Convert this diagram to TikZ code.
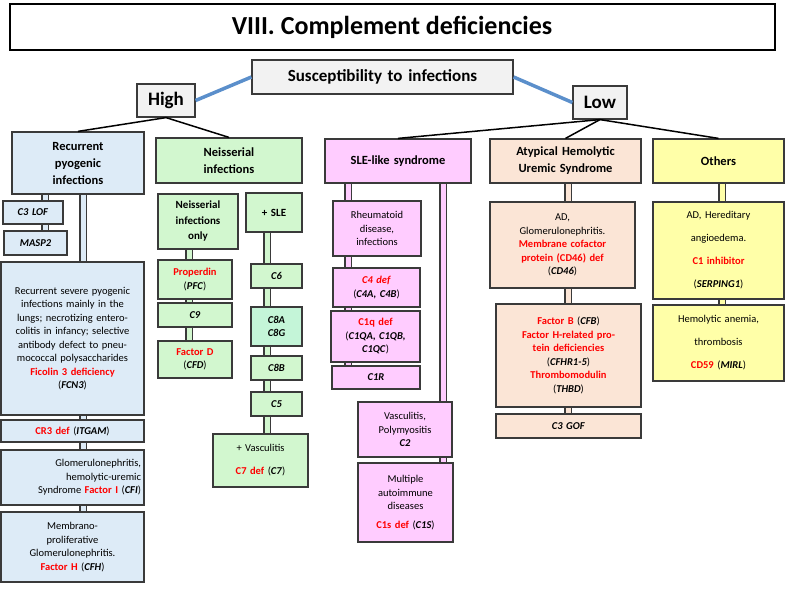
\documentclass[tikz,border=0pt]{standalone}
\usepackage{fontspec}
\setmainfont{Carlito}
\usetikzlibrary{backgrounds}
\definecolor{cblue}{HTML}{DDEBF7}
\definecolor{cgreen}{HTML}{D2F7CF}
\definecolor{cgreen2}{HTML}{C4F5D8}
\definecolor{cpink}{HTML}{FFCCFF}
\definecolor{cpeach}{HTML}{FBE5D6}
\definecolor{cyel}{HTML}{FFFFA8}
\definecolor{cgray}{HTML}{F2F2F2}
\definecolor{lblue}{HTML}{5B8FCB}
\definecolor{bord}{HTML}{3A3A3A}
\newcommand\rd[1]{\textcolor{red}{\textbf{#1}}}
\newcommand\gi[1]{\textbf{\textit{#1}}}
\newcommand\bx[7]{\node[draw=bord,line width=1.2pt,inner sep=1pt,align=center,font=\fontsize{10.5}{13.5}\selectfont,
  minimum width={(#4-#2)*1pt},minimum height={(#5-#3)*1pt},text width={(#4-#2-6)*1pt},#6]
  (#1) at ({(#2+#4)/2},{(#3+#5)/2}) {#7};}
\newcommand\vbar[4]{\draw[line width=7.5pt,bord] (#2.south -| #1,0) -- (#3.north -| #1,0);
  \draw[line width=5pt,#4] (#2.south -| #1,0) -- (#3.north -| #1,0);}
\begin{document}
\begin{tikzpicture}[x=1pt,y=-1pt]
\useasboundingbox (0,0) rectangle (785,599);
\tikzset{hd/.style={font=\fontsize{12.5}{17}\selectfont\bfseries}}
\node[draw=black,line width=2pt,minimum width=765pt,minimum height=46pt,font=\fontsize{26}{30}\selectfont\bfseries] (title) at (392,27) {VIII. Complement deficiencies};
\bx{sus}{252}{60}{513}{94}{fill=cgray,font=\fontsize{17}{20}\selectfont\bfseries}{Susceptibility to infections}
\bx{high}{137}{84}{195}{117}{fill=cgray,font=\fontsize{19}{22}\selectfont\bfseries}{High}
\bx{low}{573}{86}{627}{119}{fill=cgray,font=\fontsize{19}{22}\selectfont\bfseries}{Low}
\draw[lblue,line width=3.5pt] (sus.west) -- (high.east);
\draw[lblue,line width=3.5pt] (sus.east) -- (low.west);
% high branch
\bx{rpi}{12}{132}{144}{194}{fill=cblue,hd}{Recurrent\\pyogenic\\infections}
\bx{nei}{156}{138}{302}{183}{fill=cgreen,hd}{Neisserial\\infections}
\draw[line width=1.5pt] (high.south) -- (rpi.north);
\draw[line width=1.5pt] (high.south) -- (nei.north);
\bx{c3lof}{3}{201}{63}{224}{fill=cblue}{\gi{C3 LOF}}
\bx{masp}{4}{231}{67}{255}{fill=cblue}{\gi{MASP2}}
\bx{rsp}{1}{262}{144}{415}{fill=cblue}{Recurrent severe pyogenic infections mainly in the lungs; necrotizing enterocolitis in infancy; selective antibody defect to pneumococcal polysaccharides\\\rd{Ficolin 3 deficiency}\\(\gi{FCN3})}
\bx{cr3}{1}{420}{144}{442}{fill=cblue}{\rd{CR3 def} (\gi{ITGAM})}
\bx{glo}{1}{450}{144}{505}{fill=cblue,align=right}{Glomerulonephritis,\\hemolytic-uremic\\Syndrome \rd{Factor I} (\gi{CFI})}
\bx{mem}{1}{512}{144}{582}{fill=cblue}{Membrano-\\proliferative\\Glomerulonephritis.\\\rd{Factor H} (\gi{CFH})}
\bx{nio}{158}{194}{238}{249}{fill=cgreen,font=\fontsize{11}{15.5}\selectfont\bfseries}{Neisserial\\infections\\only}
\bx{prop}{158}{260}{232}{299}{fill=cgreen}{\rd{Properdin}\\(\gi{PFC})}
\bx{c9}{158}{303}{232}{327}{fill=cgreen}{\gi{C9}}
\bx{fd}{158}{341}{232}{378}{fill=cgreen}{\rd{Factor D}\\(\gi{CFD})}
\bx{sle}{246}{193}{302}{232}{fill=cgreen,font=\fontsize{11}{13}\selectfont\bfseries,anchor=center}{+ SLE\\[10pt]}
\bx{c6}{251}{264}{302}{288}{fill=cgreen}{\gi{C6}}
\bx{c8a}{251}{307}{302}{346}{fill=cgreen2}{\gi{C8A}\\\gi{C8G}}
\bx{c8b}{251}{356}{302}{380}{fill=cgreen}{\gi{C8B}}
\bx{c5}{251}{392}{302}{416}{fill=cgreen}{\gi{C5}}
\bx{vas}{213}{434}{308}{487}{fill=cgreen,font=\fontsize{10.5}{23}\selectfont}{+ Vasculitis\\\rd{C7 def} (\gi{C7})}
% low branch
\bx{slel}{325}{139}{471}{183}{fill=cpink,hd}{SLE-like syndrome\\[12pt]}
\bx{ahus}{490}{139}{641}{183}{fill=cpeach,hd}{Atypical Hemolytic\\Uremic Syndrome}
\bx{oth}{653}{139}{784}{183}{fill=cyel,hd}{Others\\[12pt]}
\draw[line width=1.5pt] (low.south) -- (slel.north);
\draw[line width=1.5pt] (low.south) -- (ahus.north);
\draw[line width=1.5pt] (low.south) -- (oth.north);
\bx{rhe}{333}{201}{421}{256}{fill=cpink}{Rheumatoid\\disease,\\infections}
\bx{c4}{333}{268}{420}{307}{fill=cpink}{\textcolor{red}{\gi{C4 def}}\\(\gi{C4A, C4B})}
\bx{c1q}{331}{311}{420}{362}{fill=cpink}{\rd{C1q def}\\(\gi{C1QA, C1QB,}\\\gi{C1QC})}
\bx{c1r}{332}{366}{420}{389}{fill=cpink}{\gi{C1R}}
\bx{vpl}{358}{402}{452}{457}{fill=cpink}{Vasculitis,\\Polymyositis\\\gi{C2}}
\bx{mul}{358}{463}{453}{542}{fill=cpink}{Multiple\\autoimmune\\diseases\\[5pt]\rd{C1s def} (\gi{C1S})}
\bx{adg}{490}{202}{635}{288}{fill=cpeach}{AD,\\Glomerulonephritis.\\\rd{Membrane cofactor protein (CD46) def}\\(\gi{CD46})}
\bx{fb}{496}{304}{641}{407}{fill=cpeach}{\rd{Factor B} (\gi{CFB})\\\rd{Factor H-related protein deficiencies}\\(\gi{CFHR1-5})\\\rd{Thrombomodulin}\\(\gi{THBD})}
\bx{c3g}{496}{414}{641}{438}{fill=cpeach}{\gi{C3 GOF}}
\bx{adh}{653}{202}{784}{299}{fill=cyel,font=\fontsize{10.5}{23}\selectfont}{AD, Hereditary\\angioedema.\\\rd{C1 inhibitor}\\(\gi{SERPING1})}
\bx{hem}{653}{305}{784}{381}{fill=cyel,font=\fontsize{10.5}{23}\selectfont}{Hemolytic anemia,\\thrombosis\\\rd{CD59} (\gi{MIRL})}
\begin{scope}[on background layer]
\vbar{45}{rpi}{masp}{cblue}
\vbar{83}{rpi}{mem}{cblue}
\vbar{189}{nio}{fd}{cgreen}
\vbar{267}{sle}{vas}{cgreen}
\vbar{348}{slel}{c1r}{cpink}
\vbar{443}{slel}{mul}{cpink}
\vbar{568}{ahus}{c3g}{cpeach}
\vbar{722}{oth}{hem}{cyel}
\end{scope}
\end{tikzpicture}
\end{document}
